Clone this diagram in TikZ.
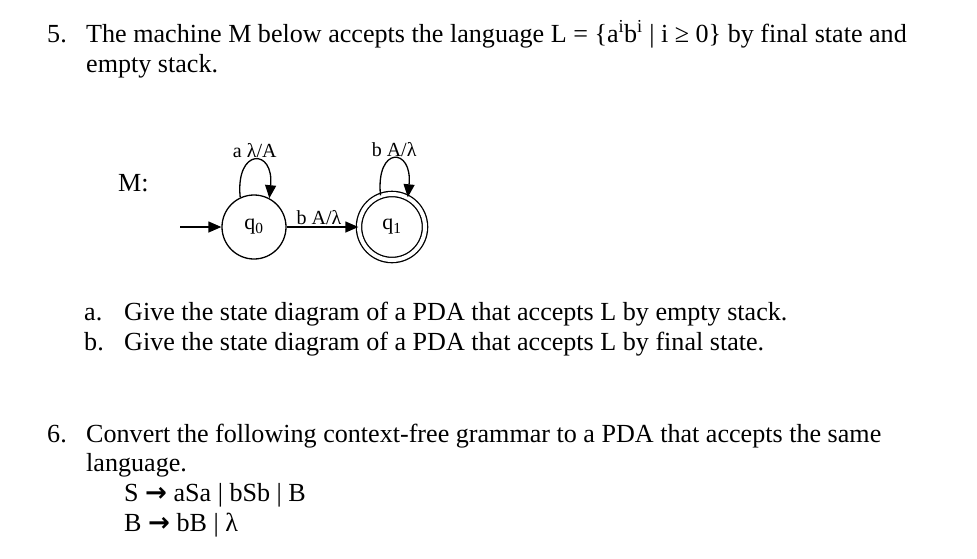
\documentclass[tikz,border=0pt]{standalone}
\usepackage{fontspec}
\setmainfont{Liberation Serif}
\newfontfamily\arrfont{DejaVu Sans}
\usetikzlibrary{arrows.meta}
\begin{document}
\begin{tikzpicture}[x=1pt,y=-1pt,
  txt/.style={anchor=base west,inner sep=0pt,font=\fontsize{26.1}{28}\selectfont},
  lbl/.style={inner sep=1.5pt,font=\fontsize{20}{22}\selectfont},
  state/.style={circle,draw,line width=1.3pt,minimum size=64pt,inner sep=0pt,font=\fontsize{22}{24}\selectfont},
  arr/.style={line width=1.3pt,-{Triangle[length=13pt,width=11pt]}}]
\useasboundingbox (0,0) rectangle (977,558);
\node[txt] (n5) at (47,42) {5.};
\node[txt] (l1) at (86,42) {The machine M below accepts the language L = \{a\textsuperscript{i}b\textsuperscript{i} | i ≥ 0\} by final state and};
\node[txt] (l2) at (86,72) {empty stack.};
\node[txt] (M) at (118,191) {M:};
\node[state] (q0) at (254,227) {q\textsubscript{0}};
\node[state,double,double distance=4pt,minimum size=66pt] (q1) at (392,227) {q\textsubscript{1}};
\coordinate (s) at (180,227);
\draw[arr] (s) -- (q0);
\draw[arr] (q0) -- node[lbl,above,pos=0.45] {b A/λ} (q1);
\draw[arr] (q0.115) .. controls +(-5,-50) and +(5,-50) .. node[lbl,above,pos=0.5] {a λ/A} (q0.62);
\draw[arr] (q1.110) .. controls +(-5,-50) and +(5,-50) .. node[lbl,above,pos=0.5] {b A/λ} (q1.62);
\node[txt] (a) at (84,320) {a.};
\node[txt] (at) at (124,320) {Give the state diagram of a PDA that accepts L by empty stack.};
\node[txt] (b) at (84,350) {b.};
\node[txt] (bt) at (124,350) {Give the state diagram of a PDA that accepts L by final state.};
\node[txt] (n6) at (47,442) {6.};
\node[txt] (c1) at (86,442) {Convert the following context-free grammar to a PDA that accepts the same};
\node[txt] (c2) at (86,471) {language.};
\node[txt] (g1) at (124,501) {S {\arrfont\bfseries →} aSa | bSb | B};
\node[txt] (g2) at (124,531) {B {\arrfont\bfseries →} bB | λ};
\end{tikzpicture}
\end{document}
